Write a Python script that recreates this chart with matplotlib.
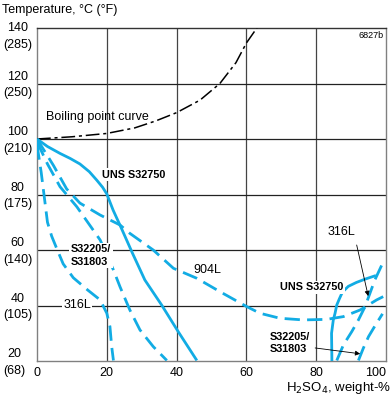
import matplotlib
matplotlib.use('Agg')
import matplotlib.pyplot as plt
from matplotlib.transforms import blended_transform_factory, offset_copy

plt.rcParams['font.family'] = ['Liberation Sans', 'DejaVu Sans']

CYAN = '#12ACE4'

# ---- data ----
boil_x = [0, 10, 20, 28, 34, 40, 46.7, 52.4, 57, 60, 63]
boil_y = [100, 100.8, 102, 104, 106.5, 109.5, 114, 120, 127.5, 134.6, 140]

s32750_left_x = [0, 3, 6.6, 9.5, 12.3, 15, 17.1, 18.8, 20, 21.8, 24.3, 27.3, 30.9, 35.7, 40.5, 45.8]
s32750_left_y = [100, 97.3, 94.8, 93.0, 91.0, 88.2, 85.2, 82.6, 80.2, 74.4, 67.5, 59, 49.2, 40.2, 30.5, 20.2]

s32750_right_x = [84.5, 84.4, 84.9, 85.4, 85.9, 86.6, 87.5, 89.2, 91.5, 94, 97.1]
s32750_right_y = [20, 30, 34.8, 37.2, 40.2, 42.3, 44.8, 46.9, 48.3, 49.5, 50.8]

l904_x = [0, 4.7, 8.5, 12.3, 18.1, 23.8, 26.6, 33.3, 39.1, 45.8, 52.4, 60.1,
          63.9, 69.6, 76.3, 83, 87.8, 92.6, 97.3, 99.2]
l904_y = [100, 90.5, 82, 76.9, 72.6, 69, 66, 60, 53.4, 49.8, 45, 39.6,
          37.2, 35.4, 34.8, 35, 36, 38.4, 42, 43.2]

s32205_left_x = [0, 3, 6.6, 11.4, 18.1, 21.9, 23.8, 26.6, 29.5, 33.3, 37.2]
s32205_left_y = [99, 91, 82.8, 75.6, 63.6, 52.8, 46.7, 38.4, 31.2, 25.2, 20.2]

s32205_right_x = [92.1, 93.5, 95, 97, 99]
s32205_right_y = [20.2, 24.6, 28.8, 33, 37]

l316_left_x = [0, 1.2, 2.2, 3.0, 4.2, 5.5, 7.5, 10.4, 14.6, 18.1, 20, 20.9, 21.4, 21.9]
l316_left_y = [98, 88, 78, 70, 65, 61, 55, 50, 45.5, 42, 37.2, 32.4, 25.2, 20.2]

l316_right_x = [85.9, 87.8, 90.2, 92.1, 94, 95.4, 96.8, 98.8]
l316_right_y = [20.2, 25.8, 30.6, 34.8, 39.6, 44.4, 49.2, 54.6]

x_ticks = [0, 20, 40, 60, 80, 100]
y_ticks_c = [20, 40, 60, 80, 100, 120, 140]
y_ticks_f = ['(68)', '(105)', '(140)', '(175)', '(210)', '(250)', '(285)']

# ---- figure ----
W, H = 392, 400
fig = plt.figure(figsize=(W / 100, H / 100), dpi=100)
ax = fig.add_axes([37 / W, 1 - 361 / H, (386 - 37) / W, (361 - 28) / H])
ax.set_xlim(0, 100)
ax.set_ylim(20, 140)

for v in x_ticks[1:-1]:
    ax.axvline(v, color='#444444', lw=0.9, zorder=1)
for v in y_ticks_c[1:-1]:
    ax.axhline(v, color='#222222', lw=0.9, zorder=1)
for side in ['left', 'bottom', 'right']:
    ax.spines[side].set_color('#808080')
    ax.spines[side].set_linewidth(1.0)
ax.spines['top'].set_color('#333333')
ax.spines['top'].set_linewidth(1.0)

dash = (5.5, 2.6)
ax.plot(boil_x, boil_y, color='black', lw=1.1, dashes=(9, 2.5, 2, 2.5), zorder=3)
ax.plot(s32750_left_x, s32750_left_y, color=CYAN, lw=2.0, zorder=3, solid_capstyle='butt')
ax.plot(s32750_right_x, s32750_right_y, color=CYAN, lw=2.0, zorder=3, solid_capstyle='butt')
ax.plot(l904_x, l904_y, color=CYAN, lw=2.0, dashes=dash, zorder=3)
ax.plot(s32205_left_x, s32205_left_y, color=CYAN, lw=2.0, dashes=dash, zorder=3)
ax.plot(s32205_right_x, s32205_right_y, color=CYAN, lw=2.0, dashes=dash, zorder=3)
ax.plot(l316_left_x, l316_left_y, color=CYAN, lw=2.0, dashes=dash, zorder=3)
ax.plot(l316_right_x, l316_right_y, color=CYAN, lw=2.0, dashes=dash, zorder=3)

# ticks
ax.set_xticks(x_ticks)
ax.set_xticklabels([str(v) for v in x_ticks], fontsize=9)
ax.tick_params(axis='x', length=0, pad=4.5)
ax.xaxis.get_ticklabels()[-1].set_horizontalalignment('right')
ax.set_yticks([])

trans = blended_transform_factory(fig.transFigure, ax.transData)
for i, (c, f) in enumerate(zip(y_ticks_c, y_ticks_f)):
    off = -8.5 if i == len(y_ticks_c) - 1 else -1.5
    ax.text(3 / W, c, f"{c}\n{f}", transform=offset_copy(trans, fig=fig, y=off, units='dots'),
            ha='left', va='center', multialignment='center', fontsize=9, linespacing=1.45)

fig.text(2 / W, 1 - 9.5 / H, 'Temperature, °C (°F)', ha='left', va='center', fontsize=9)
fig.text(391 / W, 1 - 388 / H, r'H$_2$SO$_4$, weight-%', ha='right', va='center', fontsize=9.5)
fig.text(384 / W, 1 - 35 / H, '6827b', ha='right', va='center', fontsize=6.5)

wb = dict(facecolor='white', edgecolor='none', pad=1.0)
ax.text(2.6, 107.9, 'Boiling point curve', fontsize=9, ha='left', va='center', zorder=4)
ax.text(18.5, 87.1, 'UNS S32750', fontsize=7.8, fontweight='bold', ha='left', va='center',
        zorder=5, bbox=wb)
ax.text(9.7, 58.0, 'S32205/\nS31803', fontsize=7.8, fontweight='bold', ha='left', va='center',
        zorder=5, bbox=wb, linespacing=1.3)
ax.text(11.5, 40.0, '316L', fontsize=9, ha='center', va='center', zorder=5, bbox=wb)
ax.text(48.9, 52.8, '904L', fontsize=9, ha='center', va='center', zorder=5)
ax.text(69.6, 46.6, 'UNS S32750', fontsize=7.8, fontweight='bold', ha='left', va='center',
        zorder=5, bbox=wb)
ax.text(66.8, 26.4, 'S32205/\nS31803', fontsize=7.8, fontweight='bold', ha='left', va='center',
        zorder=5, linespacing=1.3)
ax.text(87.3, 66.6, '316L', fontsize=9, ha='center', va='center', zorder=5)

ap = dict(arrowstyle='-|>', lw=0.6, color='black', mutation_scale=7, shrinkA=0, shrinkB=0)
ax.annotate('', xy=(92.6, 22.6), xytext=(79.7, 24.7), arrowprops=ap, zorder=6)
ax.annotate('', xy=(94.9, 43.4), xytext=(91.6, 61.8), arrowprops=ap, zorder=6)

fig.savefig('out.png', dpi=100)
